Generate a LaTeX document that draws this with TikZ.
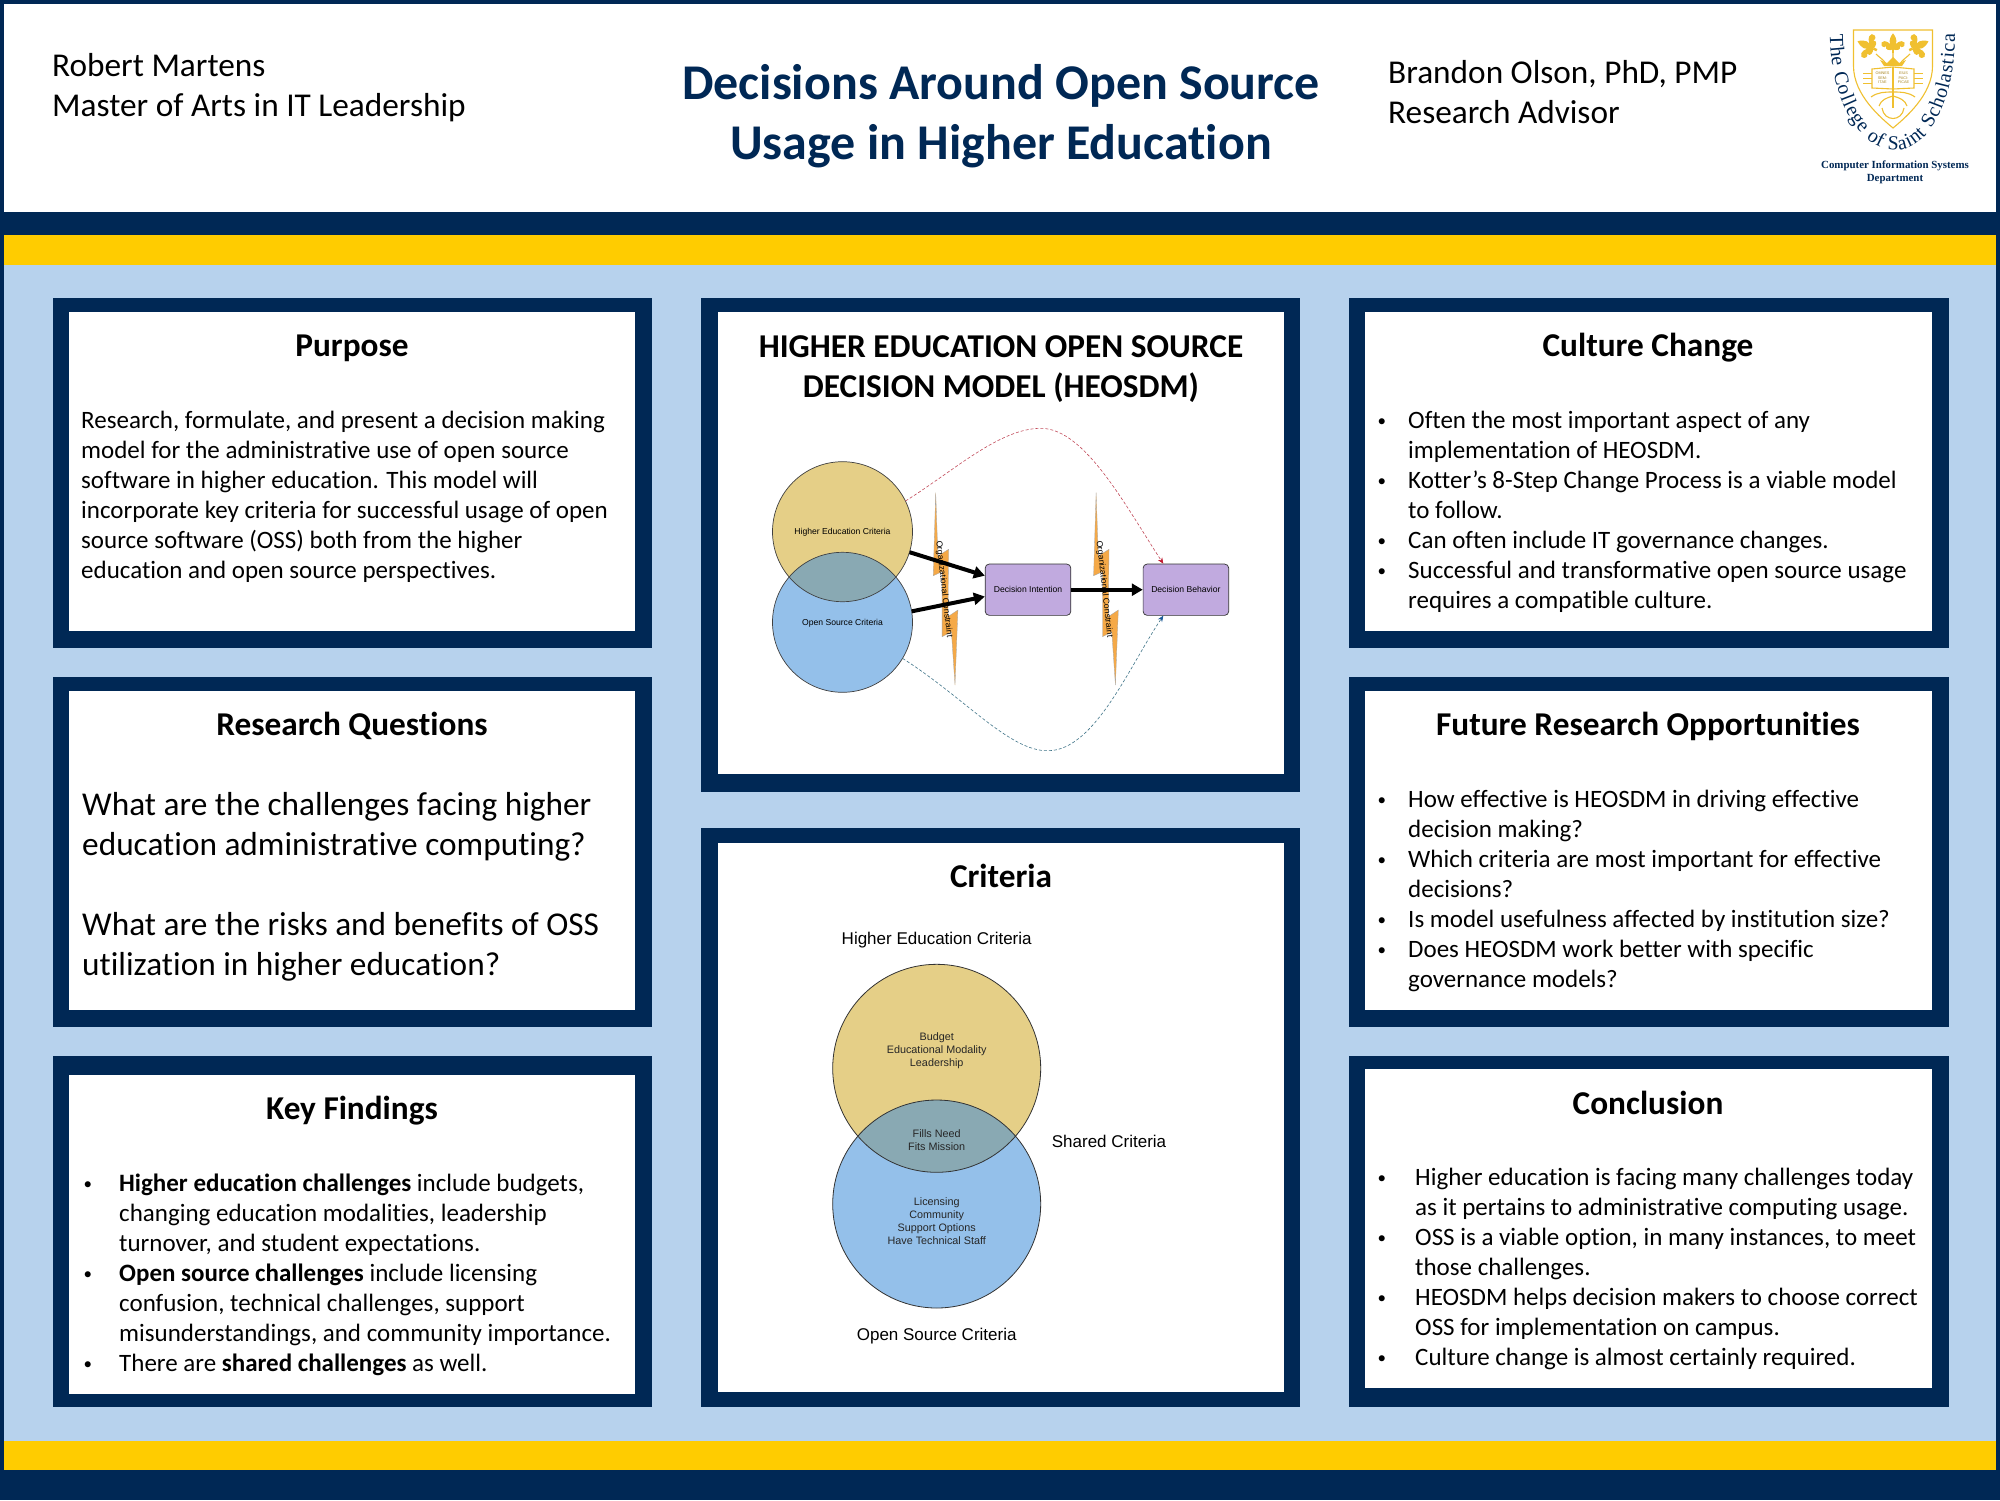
\documentclass[tikz,border=0pt]{standalone}
\usepackage{fontspec}
\setmainfont{Carlito}[Ligatures={NoCommon}]
\newfontfamily\helv{Liberation Sans}
\newfontfamily\tms{Liberation Serif}
\usetikzlibrary{shapes.geometric,arrows.meta,decorations.text}
\definecolor{navy}{HTML}{002855}
\definecolor{gold}{HTML}{FFCC00}
\definecolor{sky}{HTML}{B7D2ED}
\definecolor{sand}{HTML}{E5CF87}
\definecolor{bluec}{HTML}{94C0EA}
\definecolor{lens}{HTML}{89A9B3}
\definecolor{purp}{HTML}{C1AADF}
\definecolor{bolt}{HTML}{F5A947}
\definecolor{shield}{HTML}{F0C030}
\definecolor{redline}{HTML}{C24A5A}
\definecolor{redtip}{HTML}{C0182E}
\definecolor{blueline}{HTML}{3F7488}
\definecolor{bluetip}{HTML}{1A5A9A}
\newcommand{\bodyfont}{\fontsize{25}{30.1}\selectfont}
\newcommand{\bigfont}{\fontsize{33.3}{40}\selectfont}
\newcommand{\headfont}{\fontsize{33.3}{40}\selectfont\bfseries}
\newcommand{\bl}[1]{\makebox[#1pt][l]{\hspace{2.5pt}\raisebox{2pt}{\fontsize{17}{17}\selectfont\textbullet}}}
\tikzset{
 x=1pt,y=-1pt,
 panel/.style={draw=none,fill=white},
 head/.style={anchor=center,align=center,font=\headfont,text=black,inner sep=0pt},
 bodytxt/.style={anchor=north west,align=left,font=\bodyfont,inner sep=0pt,text=black},
 bigtxt/.style={anchor=north west,align=left,font=\bigfont,inner sep=0pt,text=black},
 hdr/.style={anchor=north west,align=left,font=\fontsize{33.3}{40}\selectfont,inner sep=0pt,text=black},
 smalllab/.style={align=center,font=\helv\fontsize{8.6}{10}\selectfont,inner sep=0pt,text=black},
 venntxt/.style={align=center,font=\helv\fontsize{10.8}{13}\selectfont,inner sep=0pt,text=black!85},
 vennlab/.style={font=\helv\fontsize{17}{20}\selectfont,inner sep=0pt,text=black},
 flow/.style={rounded corners=4pt,draw=black!80,fill=purp,line width=.7pt,minimum width=85.6pt,minimum height=51.3pt,inner sep=0pt,font=\helv\fontsize{8.6}{10}\selectfont},
 modelc/.style={circle,draw=none,inner sep=0pt,minimum size=140pt},
 strong/.style={line width=4pt,black,-{Triangle[length=11pt,width=12pt]}},
 dashflow/.style={densely dashed,line width=.6pt},
 shieldline/.style={draw=shield,line width=1.1pt,fill=none},
}
\newcommand{\boltshape}[1]{%
 \begin{scope}[shift={(#1,0)}]
 \fill[bolt,draw=black!35,line width=.3pt] (935.7,492.7)--(933.2,575.7)--(942.1,571.7)--(942.1,636.7)--(951.4,631.7)--(955,685)--(957.9,610)--(947.9,616.7)--(948.6,549.3)--(937.9,556)--cycle;
 \end{scope}}
\newcommand{\fleur}[4]{% x, y, rotation, scale
 \begin{scope}[shift={(#1,#2)},rotate=#3,scale=#4]
 \fill[shield,even odd rule] (0,-11) .. controls (4,-6) and (4,-2) .. (0,1) .. controls (-4,-2) and (-4,-6) .. (0,-11) -- cycle
   (0,1) .. controls (3,-3) and (7,-6) .. (10,-3) .. controls (11,1) and (7,2) .. (6,0) .. controls (7,4) and (3,4) .. (0,3) -- cycle
   (0,1) .. controls (-3,-3) and (-7,-6) .. (-10,-3) .. controls (-11,1) and (-7,2) .. (-6,0) .. controls (-7,4) and (-3,4) .. (0,3) -- cycle;
 \fill[shield] (-1,3) rectangle (1,6);
 \end{scope}}
\begin{document}
\begin{tikzpicture}
\useasboundingbox (0,0) rectangle (2000,1500);
% frame and bands
\fill[navy] (0,0) rectangle (2000,1500);
\fill[white] (4,4) rectangle (1996,212);
\fill[gold] (4,235) rectangle (1996,265);
\fill[sky] (4,265) rectangle (1996,1441);
\fill[gold] (4,1441) rectangle (1996,1470);
% panels
\fill[navy] (53,298) rectangle (652,648);
\fill[panel] (69,312) rectangle (635,631);
\fill[navy] (53,677) rectangle (652,1027);
\fill[panel] (69,691) rectangle (635,1010);
\fill[navy] (53,1056) rectangle (652,1407);
\fill[panel] (69,1075) rectangle (635,1394);
\fill[navy] (701,298) rectangle (1300,792);
\fill[panel] (718,312) rectangle (1284,774);
\fill[navy] (701,828) rectangle (1300,1407);
\fill[panel] (718,843) rectangle (1284,1392);
\fill[navy] (1349,298) rectangle (1949,648);
\fill[panel] (1365,312) rectangle (1932,631);
\fill[navy] (1349,677) rectangle (1949,1027);
\fill[panel] (1365,691) rectangle (1932,1010);
\fill[navy] (1349,1056) rectangle (1949,1407);
\fill[panel] (1365,1069) rectangle (1932,1388);
% header
\node[hdr] (author) at (52,53) {Robert Martens\\Master of Arts in IT Leadership};
\node[hdr] (advisor) at (1388,60) {Brandon Olson, PhD, PMP\\Research Advisor};
\node[anchor=center,align=center,font=\fontsize{50}{60}\selectfont\bfseries,text=navy,inner sep=0pt] (title) at (1001,116.5) {Decisions Around Open Source\\Usage in Higher Education};
% logo
\path[decorate,decoration={text along path,text align={fit to path},text={|\tms\fontsize{20}{22}\selectfont\color{navy}|The College of Saint Scholastica}}]
 (1830,34) .. controls (1830,100) and (1860,150) .. (1895,150) .. controls (1930,150) and (1955,100) .. (1955,34);
\draw[shieldline] (1853.5,30) -- (1932.5,30) -- (1932.5,66) .. controls (1932.5,95) and (1905,118) .. (1893,128) .. controls (1881,118) and (1853.5,95) .. (1853.5,66) -- cycle;
\fleur{1893}{46}{0}{1.15}
\fleur{1870}{47}{65}{1.25}
\fleur{1916}{47}{-65}{1.25}
\draw[shieldline] (1876,54) .. controls (1880,58) and (1884,60) .. (1886,64) (1910,54) .. controls (1906,58) and (1902,60) .. (1900,64) (1893,51) -- (1893,60);
\fill[shield] (1880,60) -- (1884,66) -- (1902,66) -- (1906,60) -- (1899,63) -- (1893,57) -- (1887,63) -- cycle;
\draw[shield,line width=1pt] (1863,73) -- (1872,73) (1863,78) -- (1872,78) (1863,83) -- (1872,83) (1914,73) -- (1923,73) (1914,78) -- (1923,78) (1914,83) -- (1923,83);
\fill[white,draw=shield,line width=1.1pt] (1872,69) -- (1893,67) -- (1914,69) -- (1914,88) -- (1893,89) -- (1872,88) -- cycle;
\draw[shieldline] (1893,67) -- (1893,89);
\draw[shieldline] (1893,89) -- (1893,108);
\draw[shieldline] (1893,92) .. controls (1885,92) and (1878,92) .. (1871,97);
\draw[shieldline] (1893,92) .. controls (1901,92) and (1908,92) .. (1915,97);
\draw[shieldline] (1893,96) .. controls (1886,98) and (1881,100) .. (1879,106);
\draw[shieldline] (1893,96) .. controls (1900,98) and (1905,100) .. (1907,106);
\draw[shieldline] (1882,108) .. controls (1884,122) and (1902,122) .. (1904,108);
\node[align=center,font=\helv\fontsize{3.8}{4.4}\selectfont,text=shield!70!black,inner sep=0pt] (bookl) at (1882.5,78) {OMNES\\SEM-\\ITAE};
\node[align=center,font=\helv\fontsize{3.8}{4.4}\selectfont,text=shield!70!black,inner sep=0pt] (bookr) at (1903.5,78) {EIUS\\PACI-\\FICAE};
\node[align=center,font=\tms\bfseries\fontsize{10.9}{12.7}\selectfont,text=navy,inner sep=0pt] (dept) at (1895,172.3) {Computer Information Systems\\Department};
% left column
\node[head] (h1) at (352,348) {Purpose};
\node[bodytxt] (t1) at (81,410.5) {Research, formulate, and present a decision making\\model for the administrative use of open source\\software in higher education. This model will\\incorporate key criteria for successful usage of open\\source software (OSS) both from the higher\\education and open source perspectives.};
\node[head] (h2) at (352,726) {Research Questions};
\node[bigtxt] (t2) at (82,792) {What are the challenges facing higher\\education administrative computing?\\[40pt]What are the risks and benefits of OSS\\utilization in higher education?};
\node[head] (h3) at (352,1111) {Key Findings};
\node[bodytxt] (t3) at (81,1173.5) {\bl{38}\textbf{Higher education challenges} include budgets,\\\hspace*{38pt}changing education modalities, leadership\\\hspace*{38pt}turnover, and student expectations.\\\bl{38}\textbf{Open source challenges} include licensing\\\hspace*{38pt}confusion, technical challenges, support\\\hspace*{38pt}misunderstandings, and community importance.\\\bl{38}There are \textbf{shared challenges} as well.};
% middle: model
\node[head] (h4) at (1001,369) {HIGHER EDUCATION OPEN SOURCE\\DECISION MODEL (HEOSDM)};
\node[modelc] (hec) at (842.5,531.7) {};
\node[modelc] (osc) at (842.5,622.3) {};
\fill[sand] (hec.center) circle (70);
\fill[bluec] (osc.center) circle (70);
\begin{scope}
\clip (hec.center) circle (70);
\fill[lens] (osc.center) circle (70);
\end{scope}
\draw[black!75,line width=.7pt] (hec.center) circle (70) (osc.center) circle (70);
\node[smalllab] (hect) at (842.5,532.7) {Higher Education Criteria};
\node[smalllab] (osct) at (842.5,623.5) {Open Source Criteria};
\boltshape{0}
\boltshape{160.4}
\node[flow] (di) at (1028,589.7) {Decision Intention};
\node[flow] (db) at (1185.9,589.7) {Decision Behavior};
\draw[strong] (hec.-17) -- (di.162);
\draw[strong] (osc.9.5) -- (di.189);
\draw[strong] (di.east) -- (db.west);
\node[smalllab,rotate=-83.6] (oc1) at (943.9,589) {Organizational Constraint};
\node[smalllab,rotate=-83.6] (oc2) at (1104.3,589) {Organizational Constraint};
\draw[dashflow,draw=redline,-{Stealth[length=6pt,width=5pt,color=redtip]}] (hec.26.6) .. controls (955,470) and (1000,428) .. (1041.4,428.3) .. controls (1085,429) and (1125,505) .. (db.131);
\draw[dashflow,draw=blueline,-{Stealth[length=6pt,width=5pt,color=bluetip]}] (osc.-31.4) .. controls (965,698) and (1010,752) .. (1048.6,750.7) .. controls (1095,750) and (1130,665) .. (db.229);
% middle: criteria
\node[head] (h5) at (1001,876) {Criteria};
\node[vennlab] (l1) at (936.7,940) {Higher Education Criteria};
\node[vennlab] (l2) at (1109,1141) {Shared Criteria};
\node[vennlab] (l3) at (936.7,1336) {Open Source Criteria};
\node[circle,inner sep=0pt,minimum size=208pt] (vtop) at (936.7,1068.3) {};
\node[circle,inner sep=0pt,minimum size=208pt] (vbot) at (936.7,1204) {};
\fill[sand] (vtop.center) circle (104);
\fill[bluec] (vbot.center) circle (104);
\begin{scope}
\clip (vtop.center) circle (104);
\fill[lens] (vbot.center) circle (104);
\end{scope}
\draw[black!80,line width=.8pt] (vtop.center) circle (104) (vbot.center) circle (104);
\node[venntxt] (v1) at (936.7,1050.5) {Budget\\Educational Modality\\Leadership};
\node[venntxt] (v2) at (936.7,1140) {Fills Need\\Fits Mission};
\node[venntxt] (v3) at (936.7,1221.5) {Licensing\\Community\\Support Options\\Have Technical Staff};
% right column
\node[head] (h6) at (1648,348) {Culture Change};
\node[bodytxt] (t6) at (1375,410.5) {\bl{33}Often the most important aspect of any\\\hspace*{33pt}implementation of HEOSDM.\\\bl{33}Kotter’s 8-Step Change Process is a viable model\\\hspace*{33pt}to follow.\\\bl{33}Can often include IT governance changes.\\\bl{33}Successful and transformative open source usage\\\hspace*{33pt}requires a compatible culture.};
\node[head] (h7) at (1648,726) {Future Research Opportunities};
\node[bodytxt] (t7) at (1375,789.5) {\bl{33}How effective is HEOSDM in driving effective\\\hspace*{33pt}decision making?\\\bl{33}Which criteria are most important for effective\\\hspace*{33pt}decisions?\\\bl{33}Is model usefulness affected by institution size?\\\bl{33}Does HEOSDM work better with specific\\\hspace*{33pt}governance models?};
\node[head] (h8) at (1648,1103) {Conclusion};
\node[bodytxt] (t8) at (1375,1167.5) {\bl{40}Higher education is facing many challenges today\\\hspace*{40pt}as it pertains to administrative computing usage.\\\bl{40}OSS is a viable option, in many instances, to meet\\\hspace*{40pt}those challenges.\\\bl{40}HEOSDM helps decision makers to choose correct\\\hspace*{40pt}OSS for implementation on campus.\\\bl{40}Culture change is almost certainly required.};
\end{tikzpicture}
\end{document}
